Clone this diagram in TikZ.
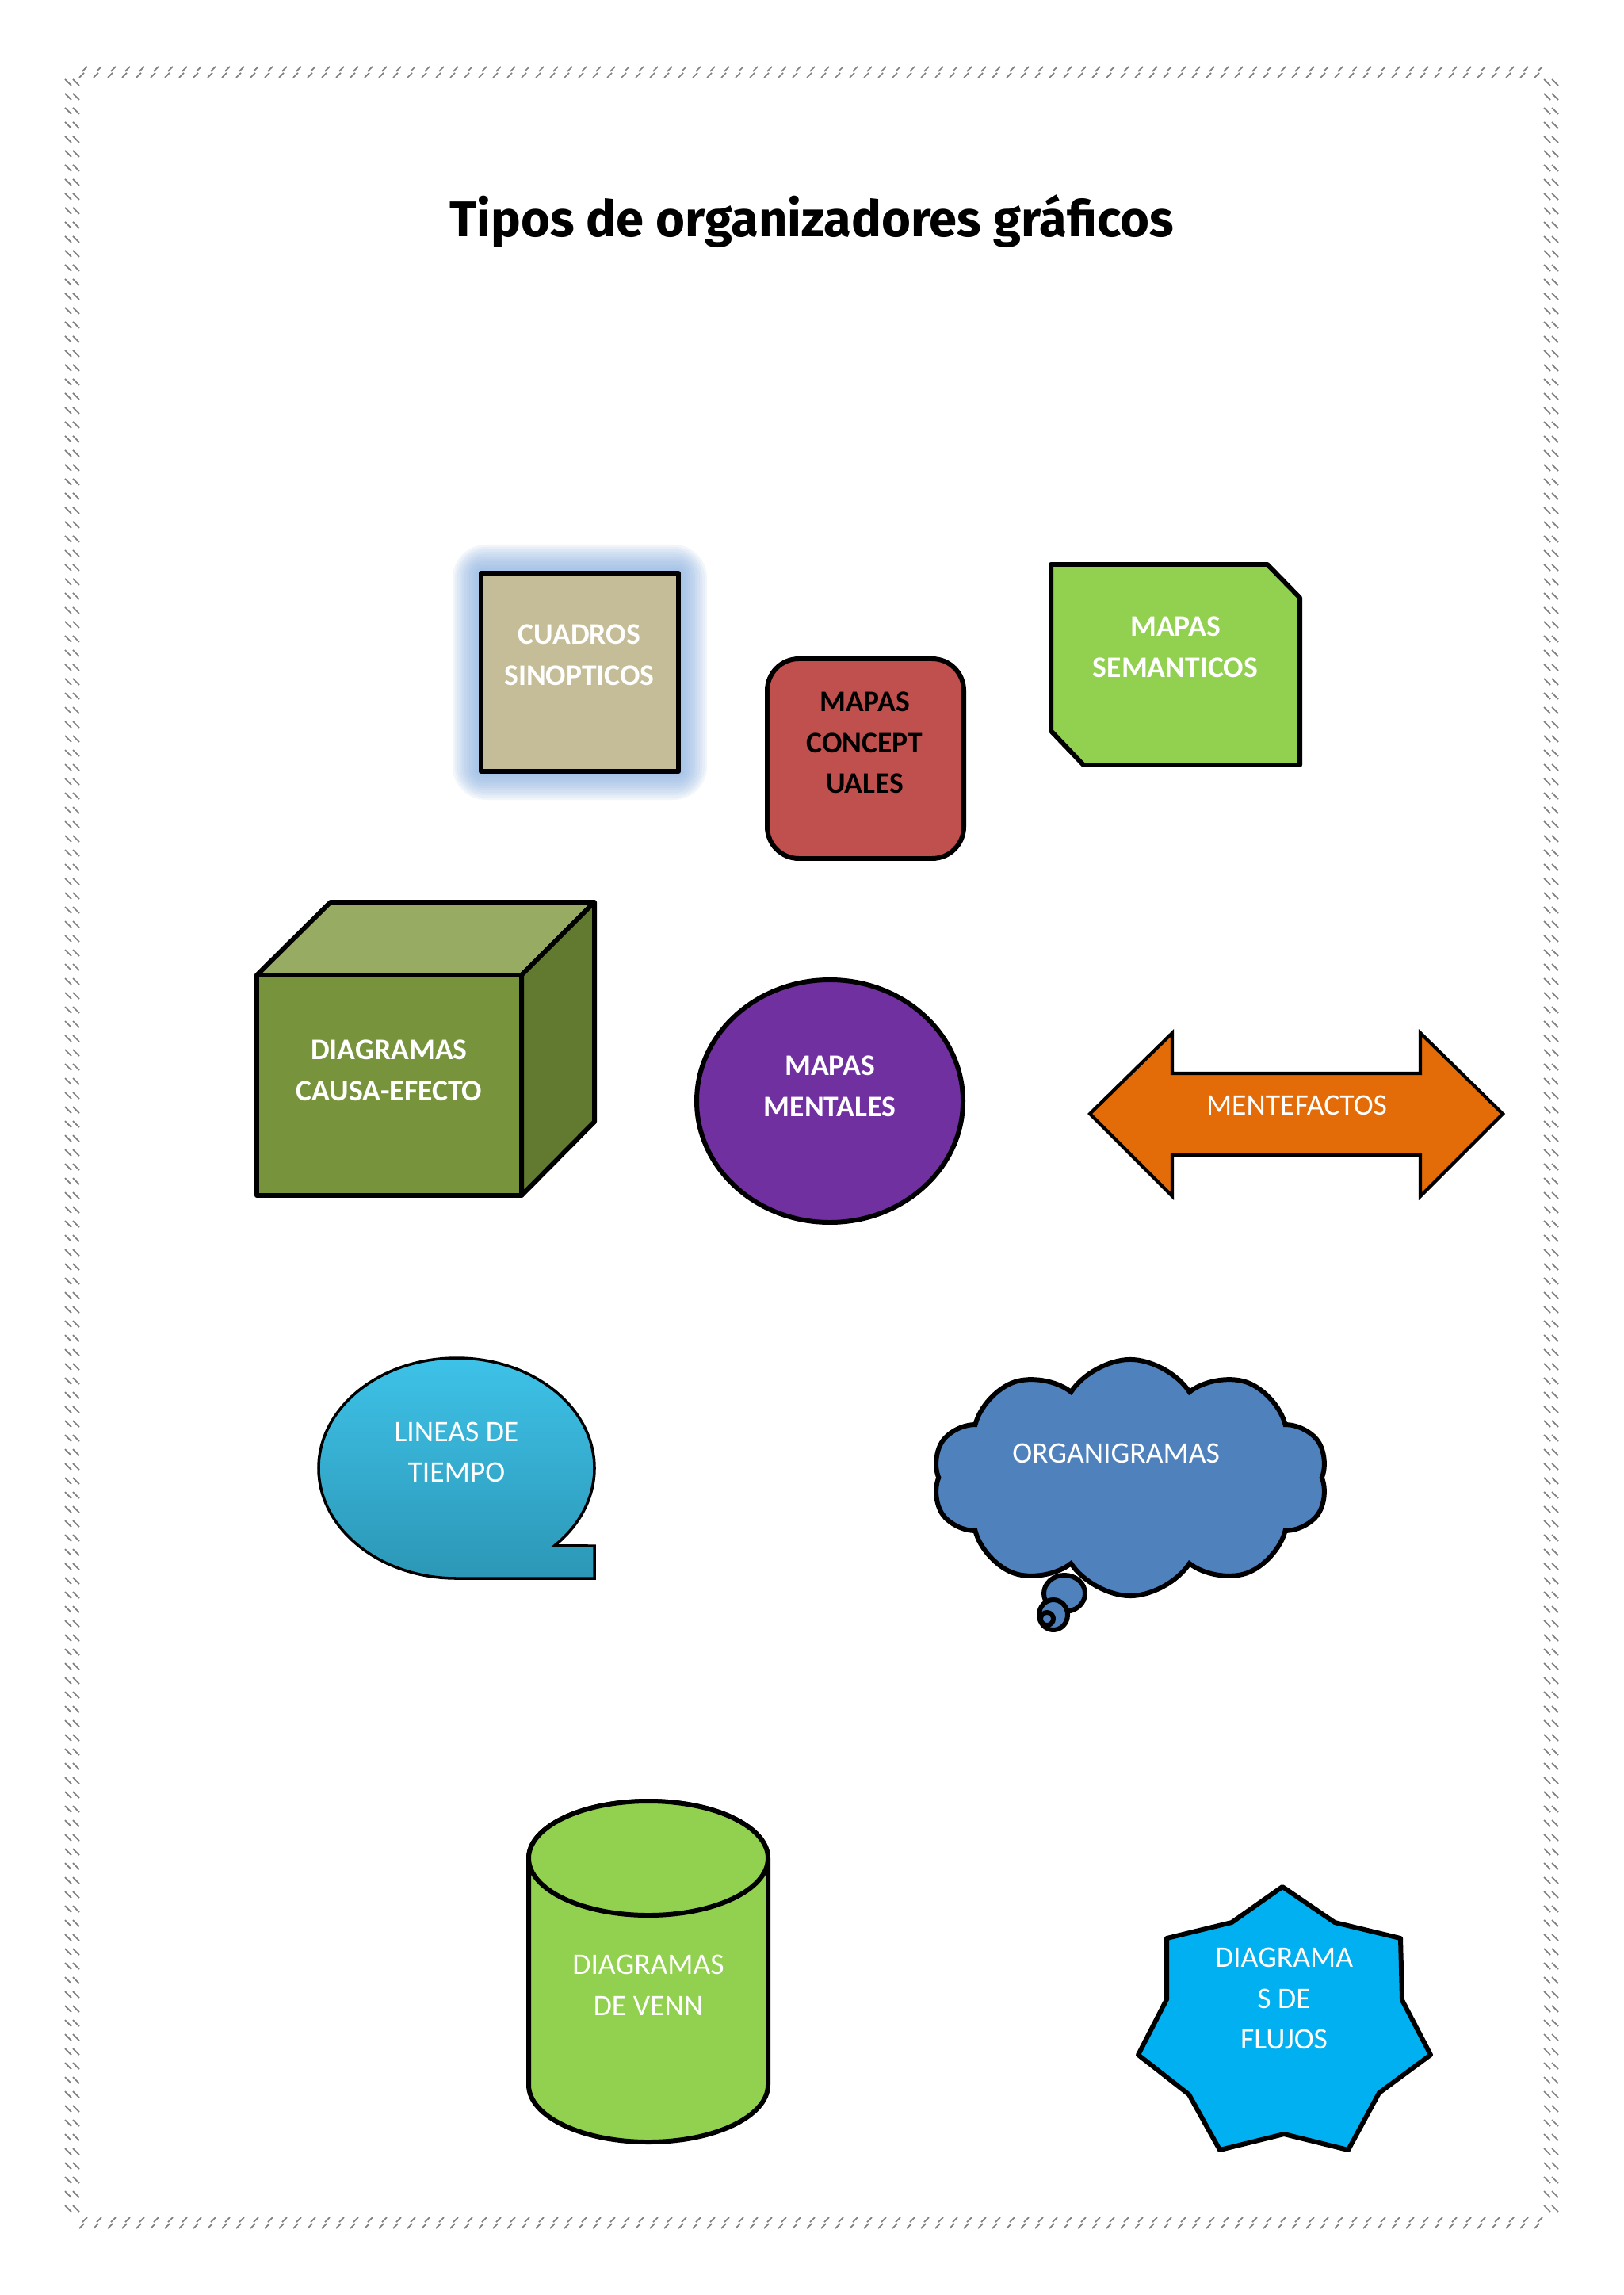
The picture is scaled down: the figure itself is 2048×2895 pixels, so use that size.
\documentclass[tikz,border=0pt]{standalone}
\usepackage{fontspec}
\setmainfont{Carlito}
\newfontfamily\titlefont{Fira Sans}
\usetikzlibrary{shapes.symbols}
\definecolor{tanfill}{HTML}{C4BD97}
\definecolor{glowblue}{HTML}{8DB3E2}
\definecolor{redfill}{HTML}{C0504D}
\definecolor{limefill}{HTML}{92D050}
\definecolor{cubefront}{HTML}{77933C}
\definecolor{cubetop}{HTML}{98AB63}
\definecolor{cubeside}{HTML}{617A30}
\definecolor{purplefill}{HTML}{7030A0}
\definecolor{orangefill}{HTML}{E36C09}
\definecolor{calloutlight}{HTML}{3EC2E8}
\definecolor{calloutdark}{HTML}{2C97B6}
\definecolor{cloudfill}{HTML}{4F81BD}
\definecolor{starfill}{HTML}{00B0F0}
\definecolor{hatchgray}{HTML}{7F7F7F}
\begin{document}
\begin{tikzpicture}[x=0.01cm, y=-0.01cm,
  shapeline/.style={draw=black, line width=1.7pt, line join=round},
  whitetext/.style={text=white, font=\fontsize{10.7}{14.7}\selectfont, align=center},
  whitebold/.style={text=white, font=\fontsize{10.7}{14.7}\selectfont\bfseries, align=center},
  hatch/.style={draw=hatchgray, line width=0.5pt}]
  \useasboundingbox[fill=white] (0,0) rectangle (2048,2895);
  % borde de la pagina
  \foreach \y in {100,118,...,2790} {
    \draw[hatch] (82,\y) -- (90,{\y+8});
    \draw[hatch] (92,\y) -- (100,{\y+8});
    \draw[hatch] (1948,\y) -- (1956,{\y+8});
    \draw[hatch] (1958,\y) -- (1966,{\y+8});
  }
  \foreach \x in {100,118,...,1940} {
    \draw[hatch] (\x,98) -- ({\x+6},92);
    \draw[hatch] ({\x+4},90) -- ({\x+10},84);
    \draw[hatch] (\x,2811) -- ({\x+6},2805);
    \draw[hatch] ({\x+4},2803) -- ({\x+10},2797);
  }
  \node[font=\titlefont\fontsize{18}{21}\selectfont\bfseries] (titulo) at (1024,279) {Tipos de organizadores gráficos};
  % primera fila
  \foreach \g in {1,...,12}
    \fill[glowblue, opacity=0.11, rounded corners=\g*1pt] ({607-3*\g},{723-3*\g}) rectangle ({856+3*\g},{973+3*\g});
  \draw[shapeline, fill=tanfill] (607,723) rectangle (856,973);
  \node[whitebold] (cuadros) at (731,826) {CUADROS\\SINOPTICOS};
  \draw[shapeline, fill=redfill, rounded corners=0.4cm] (968,831) rectangle (1216,1083);
  \node[whitebold, text=black] (conceptuales) at (1091,937) {MAPAS\\CONCEPT\\UALES};
  \draw[shapeline, fill=limefill] (1326,712) -- (1599,712) -- (1640,754) -- (1640,965) -- (1367,965) -- (1326,922) -- cycle;
  \node[whitebold] (semanticos) at (1483,816) {MAPAS\\SEMANTICOS};
  % segunda fila
  \draw[shapeline, fill=cubetop] (324,1230) -- (417,1138) -- (750,1138) -- (658,1230) -- cycle;
  \draw[shapeline, fill=cubeside] (658,1230) -- (750,1138) -- (750,1415) -- (658,1508) -- cycle;
  \draw[shapeline, fill=cubefront] (324,1230) rectangle (658,1508);
  \node[whitebold] (causa) at (491,1350) {DIAGRAMAS\\CAUSA-EFECTO};
  \draw[shapeline, fill=purplefill] (1047,1389) ellipse [x radius=168, y radius=153];
  \node[whitebold] (mentales) at (1047,1370) {MAPAS\\MENTALES};
  \draw[draw=black, line width=1.2pt, fill=orangefill] (1375,1405) -- (1479,1303) -- (1479,1354) -- (1792,1354) -- (1792,1303) -- (1896,1405) -- (1792,1509) -- (1792,1457) -- (1479,1457) -- (1479,1509) -- cycle;
  \node[whitetext] (mentefactos) at (1636,1394) {MENTEFACTOS};
  % tercera fila
  \draw[draw=black, line width=1pt, top color=calloutlight, bottom color=calloutdark] (576,1991) arc[start angle=90, end angle=404.8, x radius=174, y radius=139] -- (750,1950) -- (750,1991) -- cycle;
  \node[whitetext] (tiempo) at (576,1832) {LINEAS DE\\TIEMPO};
  \node[cloud, draw=black, line width=1.7pt, fill=cloudfill, cloud puffs=10, cloud puff arc=115, minimum width=4.98cm, minimum height=2.98cm] (nube) at (1426,1864) {};
  \draw[shapeline, fill=cloudfill] (1343,2010) ellipse [x radius=26, y radius=23];
  \draw[shapeline, fill=cloudfill] (1329,2037) ellipse [x radius=18, y radius=19];
  \draw[shapeline, fill=cloudfill] (1321,2042) ellipse [x radius=8, y radius=8];
  \node[whitetext] (organigramas) at (1408,1833) {ORGANIGRAMAS};
  % cuarta fila
  \draw[shapeline, fill=limefill] (667,2344) -- (667,2630) arc[start angle=180, end angle=0, x radius=151, y radius=72] -- (969,2344) arc[start angle=0, end angle=-180, x radius=151, y radius=72] -- cycle;
  \draw[shapeline, fill=limefill] (818,2344) ellipse [x radius=151, y radius=72];
  \node[whitetext] (venn) at (818,2504) {DIAGRAMAS\\DE VENN};
  \draw[shapeline, fill=starfill] (1618,2380) -- (1684,2425) -- (1767,2445) -- (1769,2523) -- (1805,2592) -- (1740,2640) -- (1701,2712) -- (1620,2692) -- (1539,2712) -- (1500,2642) -- (1436,2592) -- (1472,2522) -- (1472,2445) -- (1554,2425) -- cycle;
  \node[whitetext] (flujos) at (1620,2521) {DIAGRAMA\\S DE\\FLUJOS};
\end{tikzpicture}
\end{document}
